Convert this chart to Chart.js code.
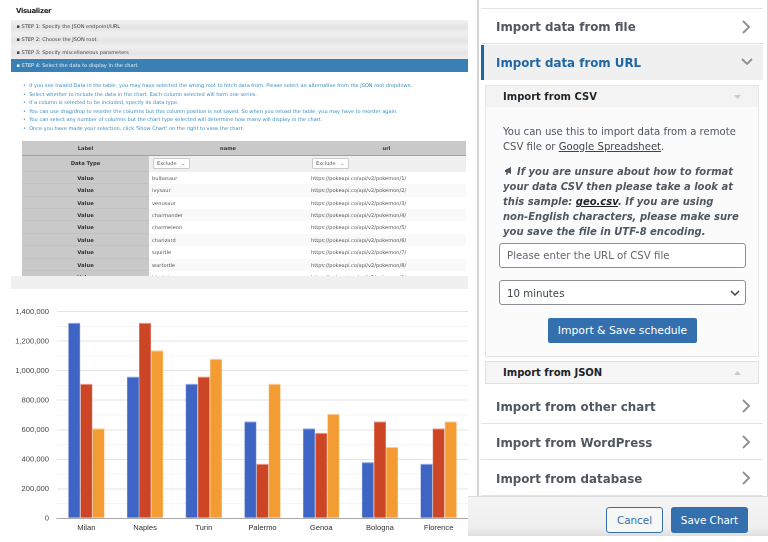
<!DOCTYPE html>
<html><head><meta charset="utf-8">
<script src="https://cdn.jsdelivr.net/npm/chart.js@4"></script>
<style>
html,body{margin:0;padding:0;background:#fff;width:768px;height:542px;overflow:hidden}
.a{position:absolute;white-space:nowrap;box-sizing:border-box}
#left{filter:blur(.45px)}
#left .a{font-family:"DejaVu Sans",sans-serif}
.step{left:11px;width:457px;height:12.5px;line-height:12.5px;font-size:5.05px;color:#444;padding-left:5.5px;background:linear-gradient(#f0f0f0,#e4e4e4 60%,#eeeeee)}
.li{left:23px;font-size:5.02px;color:#3a8cc0;line-height:8px}
.cell{font-size:5.1px;line-height:12.3px;height:12.3px;color:#555}
.lab{left:22px;width:127px;background:#c9c9c9;text-align:center;font-weight:bold;color:#333;font-size:5.3px;border-bottom:1px solid #c2c2c2}
.sel{width:37px;height:11px;border:1px solid #ccc;background:#fff;font-size:5px;line-height:9px;padding-left:3px;color:#555;border-radius:1px}
#right{filter:blur(.25px)}
#right .a{font-family:"DejaVu Sans",sans-serif}
.item{left:481px;width:282px;height:35px;background:#fff;border-bottom:1px solid #e3e3e3}
.h{left:496px;font-size:11.85px;font-weight:bold;color:#50575e;line-height:16px}
.t{left:503px;font-size:10.1px;color:#50575e;line-height:15px}
.b{left:503px;font-size:10px;font-weight:bold;font-style:italic;color:#50575e;line-height:15px}
.sub{left:503px;font-size:10px;font-weight:bold;color:#1d2327;line-height:14px}
u{text-decoration:underline}
</style></head><body>
<div id="left">
<div class="a" style="left:16px;top:5px;font-size:7px;font-weight:bold;color:#222;line-height:12px;letter-spacing:-.35px">Visualizer</div>
<div class="a step" style="top:20px">▪ STEP 1: Specify the JSON endpoint/URL</div>
<div class="a step" style="top:33px">▪ STEP 2: Choose the JSON root</div>
<div class="a step" style="top:46px">▪ STEP 3: Specify miscellaneous parameters</div>
<div class="a step" style="top:59px;background:#3a80b4;color:#e8f1f8">▪ STEP 4: Select the data to display in the chart</div>
<div class="a li" style="top:81px">•&nbsp; If you see Invalid Data in the table, you may have selected the wrong root to fetch data from. Please select an alternative from the JSON root dropdown.</div>
<div class="a li" style="top:89.5px">•&nbsp; Select whether to include the data in the chart. Each column selected will form one series.</div>
<div class="a li" style="top:98px">•&nbsp; If a column is selected to be included, specify its data type.</div>
<div class="a li" style="top:106.5px">•&nbsp; You can use drag/drop to reorder the columns but this column position is not saved. So when you reload the table, you may have to reorder again.</div>
<div class="a li" style="top:115px">•&nbsp; You can select any number of columns but the chart type selected will determine how many will display in the chart.</div>
<div class="a li" style="top:123.5px">•&nbsp; Once you have made your selection, click 'Show Chart' on the right to view the chart.</div>
<div class="a" style="left:22px;top:141px;width:444px;height:15px;background:#c9c9c9;border-bottom:1.5px solid #9f9f9f"></div>
<div class="a cell" style="left:22px;width:127px;top:142px;text-align:center;font-weight:bold;color:#333">Label</div>
<div class="a cell" style="left:149px;width:158px;top:142px;text-align:center;font-weight:bold;color:#333">name</div>
<div class="a cell" style="left:307px;width:159px;top:142px;text-align:center;font-weight:bold;color:#333">url</div>
<div class="a" style="left:149px;top:156px;width:317px;height:16px;background:#f0f0f0"></div>
<div class="a lab" style="top:156px;height:16px;line-height:15px">Data Type</div>
<div class="a sel" style="left:153px;top:158px">Exclude &nbsp;&nbsp;⌄</div>
<div class="a sel" style="left:312px;top:158px">Exclude &nbsp;&nbsp;⌄</div>
<div id="rows"></div>
<div class="a" style="left:11px;top:276px;width:457px;height:13px;background:#f0f0f0"></div>
</div>

<canvas id="c" class="a" style="left:0;top:295px;width:470px;height:240px"></canvas>

<div id="right">
<div class="a" style="left:477px;top:0;width:1.5px;height:496px;background:#d4d4d4"></div>
<div class="a" style="left:767px;top:0;width:1px;height:496px;background:#d4d4d4"></div>
<div class="a" style="left:481px;top:8px;width:282px;height:1px;background:#e3e3e3"></div>
<div class="a item" style="top:9px"></div>
<div class="a h" style="top:19px">Import data from file</div>
<div class="a" style="left:481px;top:45px;width:282px;height:35px;background:#f0f0f1;border-left:3px solid #1f66a5"></div>
<div class="a h" style="top:55px;color:#1f66a5">Import data from URL</div>
<div class="a" style="left:485px;top:85px;width:274px;height:272px;background:#fbfbfb;border:1px solid #e4e4e4"></div>
<div class="a" style="left:486px;top:86px;width:272px;height:21px;background:#f3f3f4"></div>
<div class="a sub" style="top:89.5px">Import from CSV</div>
<div class="a t" style="top:124px">You can use this to import data from a remote</div>
<div class="a t" style="top:139px">CSV file or <u style="color:#3c434a">Google Spreadsheet</u>.</div>
<svg class="a" style="left:504px;top:166px" width="11" height="10" viewBox="0 0 11 10"><path d="M1 4l6-3v7L4 6.5 3.4 9 2 8.6 2.3 6 1 6z" fill="#50575e"/></svg>
<div class="a b" style="top:164px;left:517px">If you are unsure about how to format</div>
<div class="a b" style="top:179px">your data CSV then please take a look at</div>
<div class="a b" style="top:194px">this sample: <u style="color:#1d2327">geo.csv</u>. If you are using</div>
<div class="a b" style="top:209px">non-English characters, please make sure</div>
<div class="a b" style="top:224px">you save the file in UTF-8 encoding.</div>
<div class="a" style="left:499px;top:243px;width:247px;height:25px;background:#fff;border:1px solid #8c8f94;border-radius:3px;font-size:10.2px;color:#646970;line-height:23px;padding-left:7px">Please enter the URL of CSV file</div>
<div class="a" style="left:499px;top:280px;width:247px;height:25px;background:#fff;border:1px solid #8c8f94;border-radius:3px;font-size:10.2px;color:#3c434a;line-height:25px;padding-left:7px">10 minutes</div>
<svg class="a" style="left:729px;top:289px" width="12" height="8" viewBox="0 0 12 8"><path d="M2 2l4 4 4-4" fill="none" stroke="#3c434a" stroke-width="1.5"/></svg>
<div class="a" style="left:548px;top:318px;width:149px;height:25px;background:#3570ae;border-radius:2px;color:#fff;font-size:10.8px;line-height:25px;text-align:center">Import &amp; Save schedule</div>
<div class="a" style="left:485px;top:361px;width:274px;height:23px;background:#f6f6f7;border:1px solid #e0e0e0"></div>
<div class="a sub" style="top:366px">Import from JSON</div>
<svg class="a" style="left:733px;top:94px" width="10" height="6"><path d="M1 1h7L4.5 5z" fill="#c9ccd0"/></svg>
<svg class="a" style="left:733px;top:370px" width="10" height="6"><path d="M1 5h7L4.5 1z" fill="#c9ccd0"/></svg>
<div class="a item" style="top:389px"></div><div class="a h" style="top:399px">Import from other chart</div>
<div class="a item" style="top:425px"></div><div class="a h" style="top:435px">Import from WordPress</div>
<div class="a item" style="top:461px"></div><div class="a h" style="top:471px">Import from database</div>
<svg class="a" style="left:741px;top:20px" width="10" height="14"><path d="M2 1l6 6-6 6" fill="none" stroke="#8c8f94" stroke-width="1.8"/></svg>
<svg class="a" style="left:741px;top:56px" width="12" height="12"><path d="M1 3l5 5 5-5" fill="none" stroke="#8c8f94" stroke-width="1.8"/></svg>
<svg class="a" style="left:741px;top:399px" width="10" height="14"><path d="M2 1l6 6-6 6" fill="none" stroke="#8c8f94" stroke-width="1.8"/></svg>
<svg class="a" style="left:741px;top:435px" width="10" height="14"><path d="M2 1l6 6-6 6" fill="none" stroke="#8c8f94" stroke-width="1.8"/></svg>
<svg class="a" style="left:741px;top:471px" width="10" height="14"><path d="M2 1l6 6-6 6" fill="none" stroke="#8c8f94" stroke-width="1.8"/></svg>
<div class="a" style="left:468px;top:496px;width:300px;height:40px;background:linear-gradient(#f5f5f5,#eeeeee 80%,#dedede);border-top:1px solid #dcdcdc"></div>
<div class="a" style="left:606px;top:507px;width:57px;height:26px;background:#f6f7f7;border:1px solid #3570ae;border-radius:3px;color:#3570ae;font-size:10.4px;line-height:24px;text-align:center">Cancel</div>
<div class="a" style="left:671px;top:507px;width:77px;height:26px;background:#3570ae;border-radius:3px;color:#fff;font-size:10.4px;line-height:26px;text-align:center">Save Chart</div>
</div>

<script>
const categories = ["Milan","Naples","Turin","Palermo","Genoa","Bologna","Florence"];
const seriesA = [1325000,960000,912000,656000,609000,381000,370000];
const seriesB = [912000,1325000,960000,370000,580000,656000,609000];
const seriesC = [609000,1138000,1081000,912000,708000,483000,656000];
const rowNames = ["bulbasaur","ivysaur","venusaur","charmander","charmeleon","charizard","squirtle","wartortle","blastoise"];
const rowUrls = [1,2,3,4,5,6,7,8,9];

const rows = document.getElementById('rows');
rowNames.forEach((n,i)=>{
  const top = 172 + i*12.37;
  const bg = i%2 ? '#f9f9f9' : '#fff';
  rows.insertAdjacentHTML('beforeend',
   `<div class="a" style="left:149px;top:${top}px;width:317px;height:12.37px;background:${bg}"></div>
    <div class="a cell lab" style="top:${top}px">Value</div>
    <div class="a cell" style="left:152px;top:${top}px">${n}</div>
    <div class="a cell" style="left:311px;top:${top}px">https://pokeapi.co/api/v2/pokemon/${rowUrls[i]}/</div>`);
});

new Chart(document.getElementById('c'),{
  type:'bar',
  data:{labels:categories,datasets:[
    {label:'Series 1',data:seriesA,backgroundColor:'#3e64c4',borderColor:'#8ea6e0',borderWidth:{left:.5,right:.5,top:1}},
    {label:'Series 2',data:seriesB,backgroundColor:'#cc4525',borderColor:'#e79a86',borderWidth:{left:.5,right:.5,top:1}},
    {label:'Series 3',data:seriesC,backgroundColor:'#f39c33',borderColor:'#f9cb95',borderWidth:{left:.5,right:.5,top:1}}
  ]},
  options:{
    responsive:false,animation:false,devicePixelRatio:2,
    layout:{padding:{left:0,right:2,top:16.7,bottom:0}},
    plugins:{legend:{display:false},tooltip:{enabled:false}},
    datasets:{bar:{categoryPercentage:.62,barPercentage:1}},
    scales:{
      x:{
        grid:{display:false,drawTicks:false},border:{color:'#a8a8a8',width:1},
        ticks:{color:'#333',font:{family:'"Liberation Sans"',size:7.6},padding:5,maxRotation:0},
        afterFit(s){s.height=16.7}
      },
      y:{
        min:0,max:1400000,
        grid:{color:c=>c.tick.value%200000===0?'#e4e4e4':'#f4f4f4',lineWidth:1,drawTicks:false},
        border:{display:false},
        ticks:{stepSize:100000,autoSkip:false,padding:8,color:'#444',font:{family:'"Liberation Sans"',size:7.6},
          callback:v=>v%200000===0?v.toLocaleString('en-US'):''},
        afterFit(s){s.width=57}
      }
    }
  }
});
</script>
</body></html>
